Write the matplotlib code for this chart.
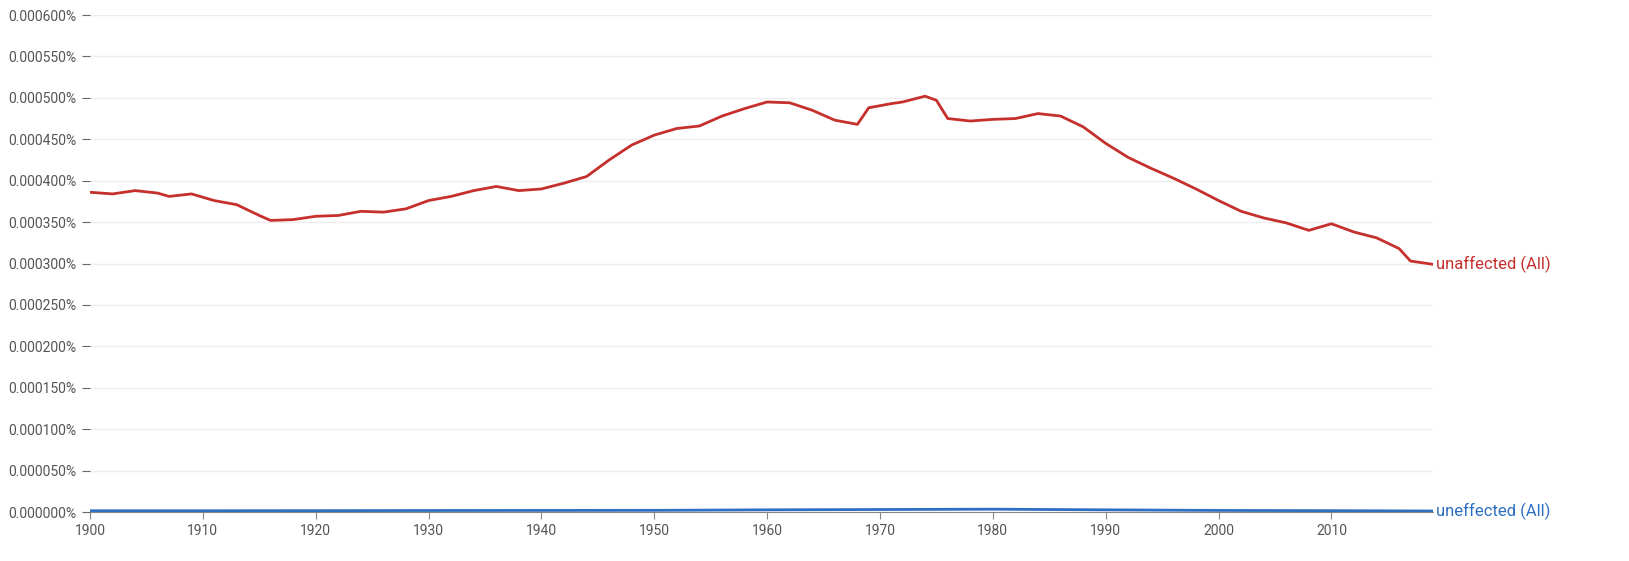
import matplotlib
matplotlib.use("Agg")
import matplotlib.pyplot as plt
from matplotlib.ticker import FuncFormatter
import numpy as np

years_red = [1900,1902,1904,1906,1907,1909,1911,1913,1915,1916,1918,1920,1922,1924,1926,1928,1930,1932,1934,1936,1938,1940,1942,1944,1946,1948,1950,1952,1954,1956,1958,1960,1962,1964,1966,1968,1969,1971,1972,1974,1975,1976,1978,1980,1982,1984,1986,1988,1990,1992,1994,1996,1998,2000,2002,2004,2006,2008,2010,2012,2014,2016,2017,2019]
unaffected = [0.000386,0.000384,0.000388,0.000385,0.000381,0.000384,0.000376,0.000371,0.000358,0.000352,0.000353,0.000357,0.000358,0.000363,0.000362,0.000366,0.000376,0.000381,0.000388,0.000393,0.000388,0.000390,0.000397,0.000405,0.000425,0.000443,0.000455,0.000463,0.000466,0.000478,0.000487,0.000495,0.000494,0.000485,0.000473,0.000468,0.000488,0.000493,0.000495,0.000502,0.000497,0.000475,0.000472,0.000474,0.000475,0.000481,0.000478,0.000465,0.000445,0.000428,0.000415,0.000403,0.000390,0.000376,0.000363,0.000355,0.000349,0.000340,0.000348,0.000338,0.000331,0.000318,0.000303,0.000299]
years_blue = [1900,1910,1920,1930,1940,1950,1960,1970,1980,1990,2000,2010,2019]
uneffected = [1.5e-6,1.5e-6,1.6e-6,1.8e-6,1.9e-6,2.0e-6,2.6e-6,3.0e-6,3.4e-6,2.6e-6,1.9e-6,1.6e-6,1.2e-6]

plt.rcParams['font.family'] = ['Roboto', 'DejaVu Sans']
fig = plt.figure(figsize=(16.29, 5.61), dpi=100)
ax = fig.add_axes([90/1629, 49/561, (1433-90)/1629, 497/561])
red, blue = '#c5302d', '#2d6fc0'
ax.plot(years_red, unaffected, color=red, lw=2, solid_joinstyle='round')
ax.plot(years_blue, uneffected, color=blue, lw=2)
ax.set_xlim(1900, 2019)
ax.set_ylim(0, 0.0006)
ax.set_yticks(np.arange(0, 0.00060001, 0.00005))
ax.yaxis.set_major_formatter(FuncFormatter(lambda v, p: f"{v:.6f}%"))
ax.set_xticks(range(1900, 2020, 10))
ax.grid(axis='y', color='#eeeeee', lw=1)
for s in ['top', 'right', 'left']:
    ax.spines[s].set_visible(False)
ax.spines['bottom'].set_color('#888888')
ax.tick_params(axis='y', length=6, color='#666666', labelsize=10, labelcolor='#555555', pad=4)
ax.tick_params(axis='x', length=5, color='#888888', labelsize=10, labelcolor='#555555')
ax.text(2019.3, unaffected[-1], 'unaffected (All)', color=red, fontsize=12, va='center', ha='left')
ax.text(2019.3, uneffected[-1], 'uneffected (All)', color=blue, fontsize=12, va='center', ha='left')
fig.savefig('out.png', dpi=100)
